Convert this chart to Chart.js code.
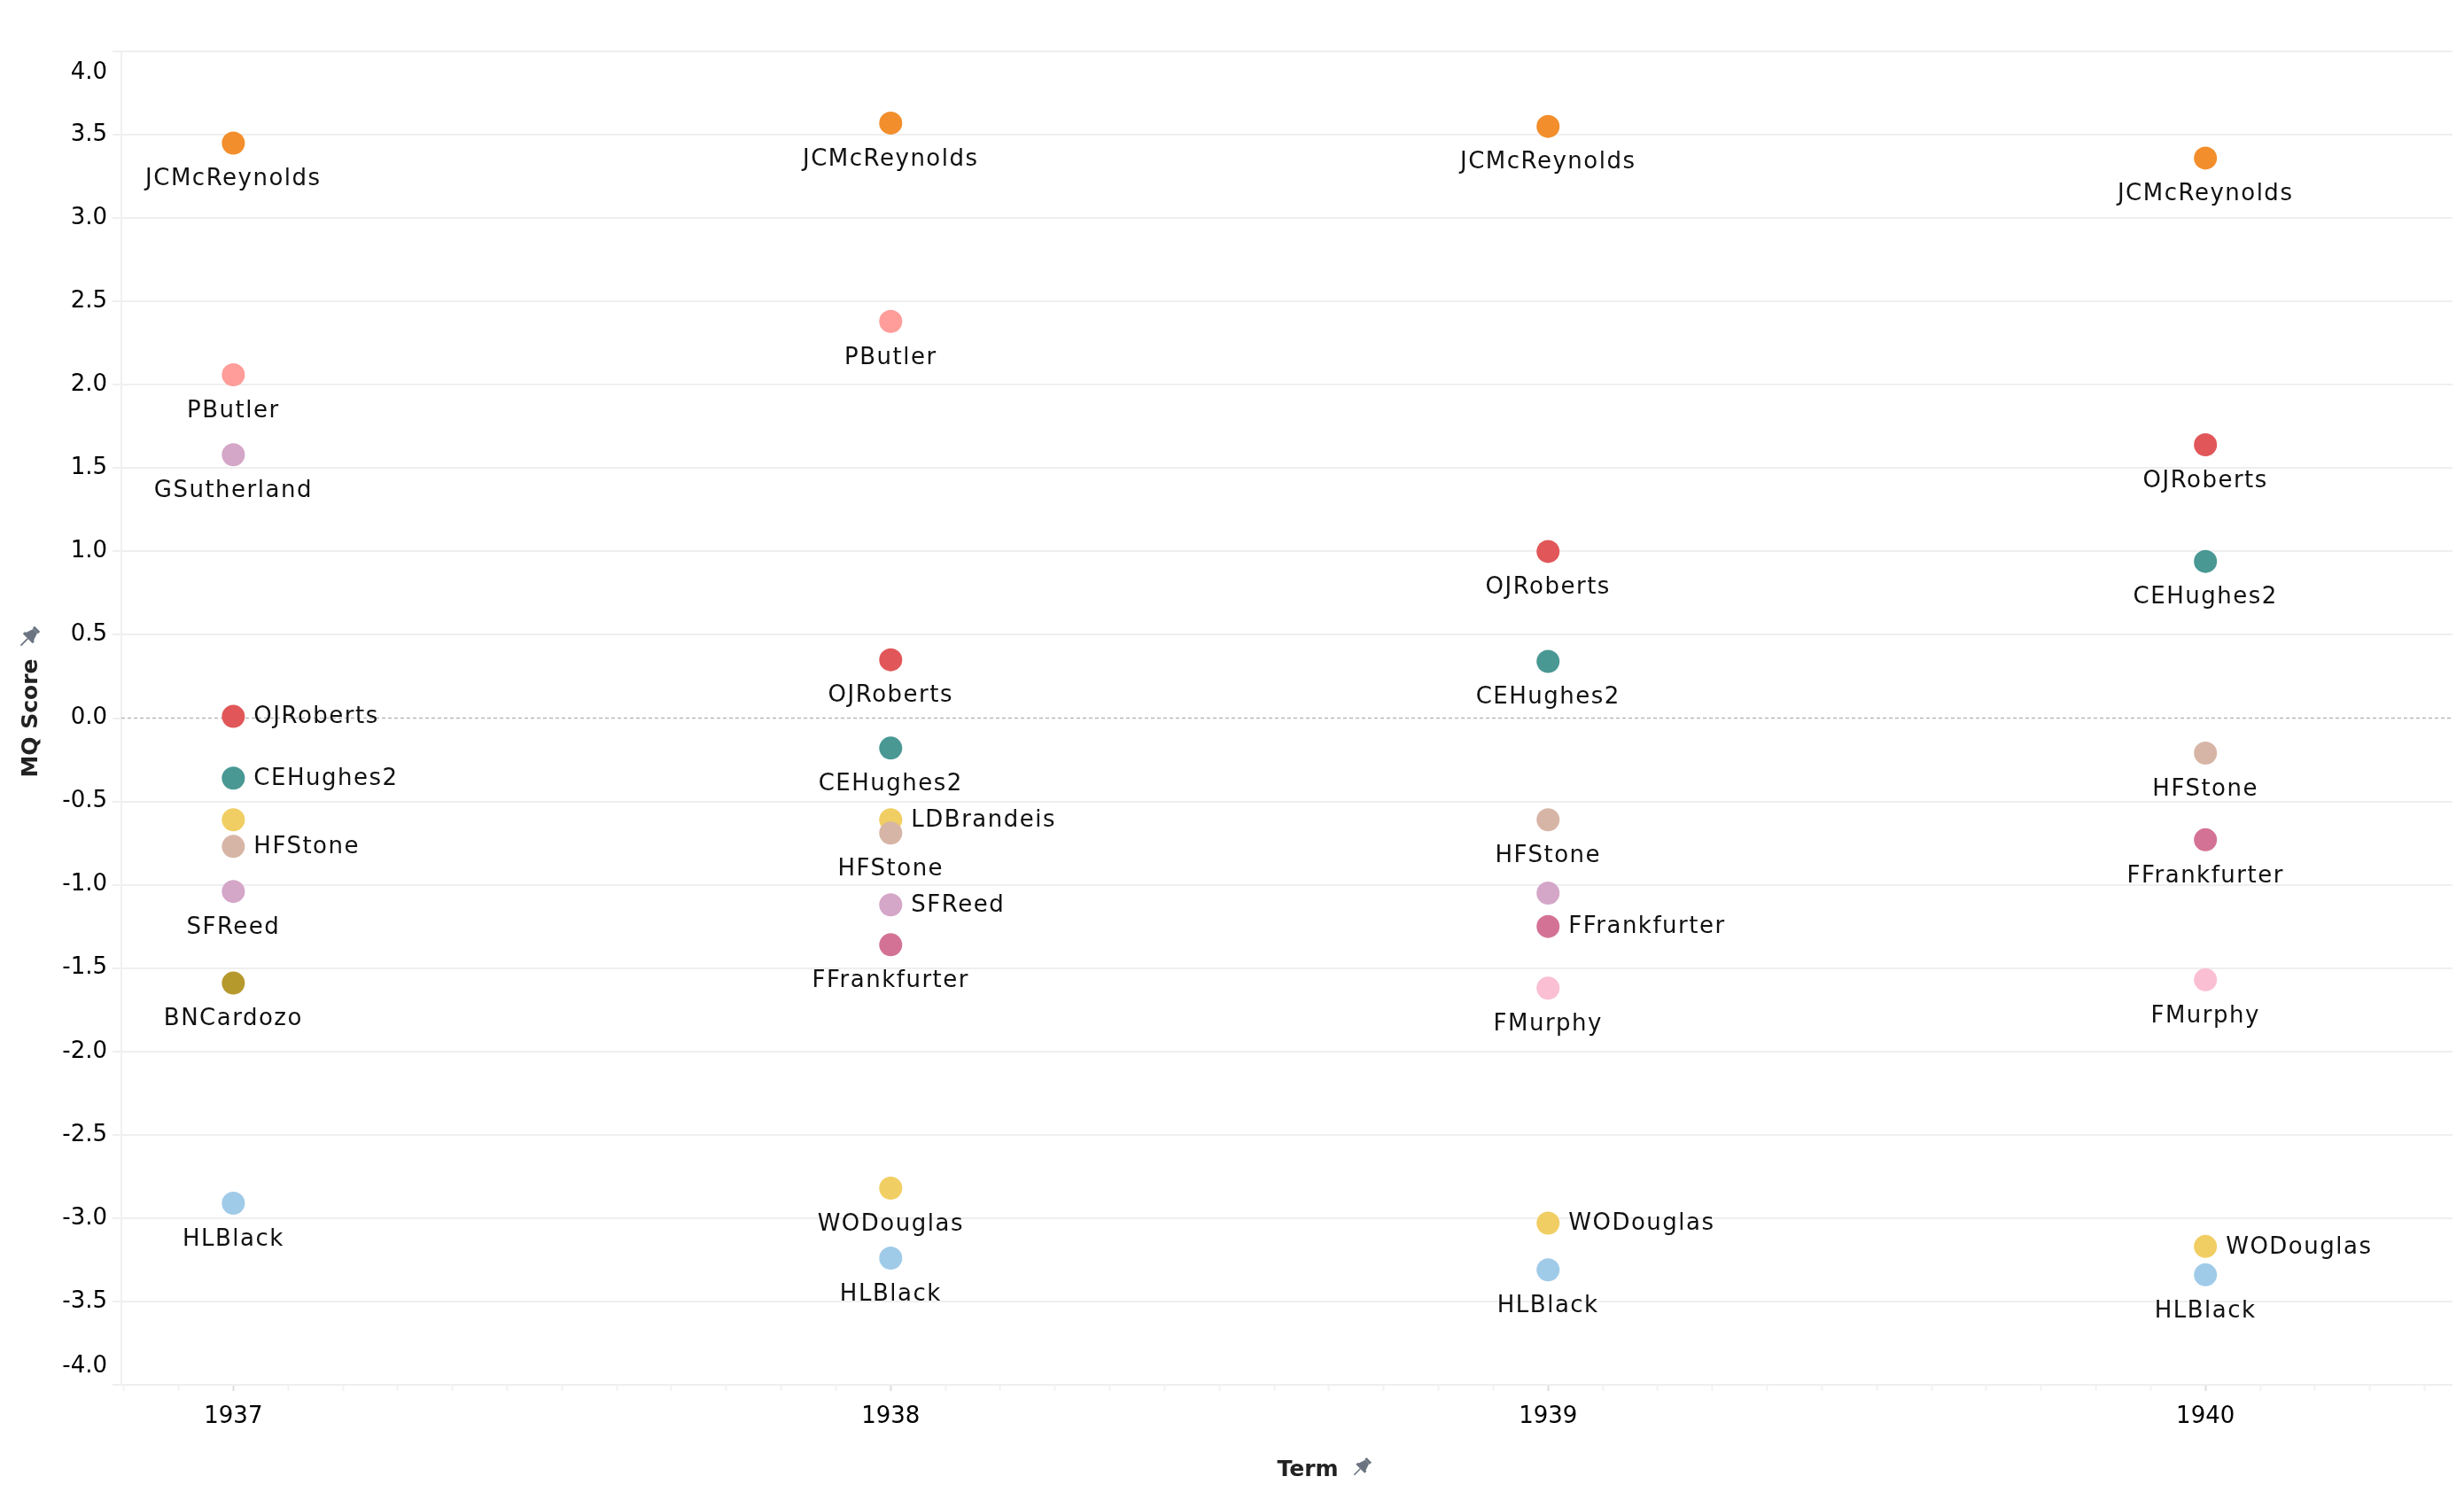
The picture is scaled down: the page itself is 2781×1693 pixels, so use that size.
<!DOCTYPE html>
<html>
<head>
<meta charset="utf-8">
<title>MQ Score by Term</title>
<style>
  html, body { margin: 0; padding: 0; background: #fff; overflow: hidden; }
  #wrap { width: 2781px; height: 1693px; position: relative; }
  #mq-chart { display: block; }
</style>
</head>
<body>
<div id="wrap"><canvas id="mq-chart"></canvas></div>
<script src="https://cdn.jsdelivr.net/npm/chart.js@4.4.1/dist/chart.umd.min.js"></script>
<script>
// Terms shown on the x axis
const terms = [1937, 1938, 1939, 1940];

// Martin-Quinn scores, one value per term (null = not sitting that term)
const JCMcReynolds = [3.45, 3.57, 3.55, 3.36];
const PButler      = [2.06, 2.38, null, null];
const GSutherland  = [1.58, null, null, null];
const OJRoberts    = [0.01, 0.35, 1.00, 1.64];
const CEHughes2    = [-0.36, -0.18, 0.34, 0.94];
const LDBrandeis   = [-0.61, -0.61, null, null];
const HFStone      = [-0.77, -0.69, -0.61, -0.21];
const SFReed       = [-1.04, -1.12, -1.05, null];
const BNCardozo    = [-1.59, null, null, null];
const FFrankfurter = [null, -1.36, -1.25, -0.73];
const FMurphy      = [null, null, -1.62, -1.57];
const WODouglas    = [null, -2.82, -3.03, -3.17];
const HLBlack      = [-2.91, -3.24, -3.31, -3.34];

const justices = ['JCMcReynolds', 'PButler', 'GSutherland', 'OJRoberts', 'CEHughes2',
  'LDBrandeis', 'HFStone', 'SFReed', 'BNCardozo', 'FFrankfurter', 'FMurphy',
  'WODouglas', 'HLBlack'];
const scoreRows = [JCMcReynolds, PButler, GSutherland, OJRoberts, CEHughes2,
  LDBrandeis, HFStone, SFReed, BNCardozo, FFrankfurter, FMurphy, WODouglas, HLBlack];

// colours (Tableau 20)
const colors = ['#F28E2B', '#FF9D9A', '#D4A6C8', '#E15759', '#499894', '#F1CE63',
  '#D7B5A6', '#D4A6C8', '#B6992D', '#D37295', '#FABFD2', '#F1CE63', '#A0CBE8'];

// label placement: default is under the mark
const labelRight = {
  1937: ['OJRoberts', 'CEHughes2', 'HFStone'],
  1938: ['LDBrandeis', 'SFReed'],
  1939: ['FFrankfurter', 'WODouglas'],
  1940: ['WODouglas']
};
const labelHidden = { 1937: ['LDBrandeis'], 1939: ['SFReed'] };

const datasets = justices.map((name, i) => ({
  label: name,
  data: terms.map((t, k) => ({ x: t, y: scoreRows[i][k] })).filter(d => d.y !== null),
  backgroundColor: colors[i],
  borderWidth: 0,
  pointRadius: 13,
  pointHoverRadius: 13,
  order: -i
}));

function drawPin(ctx, x, y, s) {
  ctx.save();
  ctx.translate(x, y);
  ctx.rotate(Math.PI / 4);
  ctx.scale(s, s);
  ctx.fillStyle = '#6b7480';
  ctx.strokeStyle = '#6b7480';
  ctx.fillRect(-4, -13, 8, 3);
  ctx.beginPath();
  ctx.moveTo(-3, -10); ctx.lineTo(3, -10); ctx.lineTo(6, -1); ctx.lineTo(-6, -1);
  ctx.closePath();
  ctx.fill();
  ctx.fillRect(-7, -2, 14, 3);
  ctx.lineWidth = 1.6;
  ctx.beginPath();
  ctx.moveTo(0, 1); ctx.lineTo(0, 11);
  ctx.stroke();
  ctx.restore();
}

const decorations = {
  id: 'decorations',
  beforeDatasetsDraw(chart) {
    const { ctx, chartArea, scales } = chart;
    const y0 = scales.y.getPixelForValue(0);
    ctx.save();
    ctx.strokeStyle = '#b8b8b8';
    ctx.lineWidth = 1.5;
    ctx.setLineDash([4, 3]);
    ctx.beginPath();
    ctx.moveTo(chartArea.left, y0);
    ctx.lineTo(chartArea.right, y0);
    ctx.stroke();
    ctx.restore();
  },
  afterDatasetsDraw(chart) {
    const { ctx } = chart;
    ctx.save();
    ctx.font = '26px "DejaVu Sans"';
    ctx.letterSpacing = '1.5px';
    ctx.fillStyle = '#111';
    ctx.textBaseline = 'middle';
    chart.data.datasets.forEach((ds, i) => {
      const meta = chart.getDatasetMeta(i);
      meta.data.forEach((pt, j) => {
        const term = ds.data[j].x;
        if ((labelHidden[term] || []).includes(ds.label)) return;
        if ((labelRight[term] || []).includes(ds.label)) {
          ctx.textAlign = 'left';
          ctx.fillText(ds.label, pt.x + 23, pt.y + 1);
        } else {
          ctx.textAlign = 'center';
          ctx.fillText(ds.label, pt.x, pt.y + 41);
        }
      });
    });
    ctx.restore();
  },
  afterDraw(chart) {
    const { ctx, chartArea, scales } = chart;
    const ys = scales.y;
    ctx.save();
    // y tick labels, end labels nudged inside the plot
    ctx.font = '26px "DejaVu Sans"';
    ctx.fillStyle = '#000';
    ctx.textAlign = 'right';
    ctx.textBaseline = 'middle';
    ys.ticks.forEach((t, i) => {
      let py = ys.getPixelForTick(i);
      if (t.value === ys.max) py += 24;
      if (t.value === ys.min) py -= 21;
      ctx.fillText(t.value.toFixed(1), 121, py);
    });
    // axis titles
    ctx.font = 'bold 25px "DejaVu Sans"';
    ctx.fillStyle = '#222';
    ctx.textAlign = 'center';
    ctx.save();
    ctx.translate(35, (chartArea.top + chartArea.bottom) / 2);
    ctx.rotate(-Math.PI / 2);
    ctx.fillText('MQ Score', 0, 0);
    ctx.restore();
    drawPin(ctx, 32, 720, 1.1);
    ctx.fillText('Term', 1476, 1659);
    drawPin(ctx, 1536, 1657, 1.0);
    ctx.restore();
  }
};

const ctx = document.getElementById('mq-chart').getContext('2d');
new Chart(ctx, {
  type: 'scatter',
  data: { datasets },
  options: {
    responsive: true,
    maintainAspectRatio: false,
    devicePixelRatio: 1,
    animation: false,
    // negative right padding lets the plot run to the page edge
    layout: { padding: { top: 58, right: -5, left: 0, bottom: 0 } },
    plugins: {
      legend: { display: false },
      tooltip: { enabled: false }
    },
    scales: {
      x: {
        type: 'linear',
        min: 1936.8297,
        max: 1940.3758,
        afterBuildTicks(scale) {
          const ticks = [];
          for (let k = Math.ceil(scale.min * 12); k <= scale.max * 12; k++) {
            ticks.push({ value: k / 12 });
          }
          scale.ticks = ticks;
        },
        afterFit(scale) { scale.height = 130; },
        border: { display: false },
        grid: {
          drawOnChartArea: false,
          drawTicks: true,
          tickLength: 7,
          tickWidth: 2,
          tickColor: (c) => Number.isInteger(c.tick && c.tick.value) ? '#dcdcdc' : '#f2f2f2'
        },
        ticks: {
          autoSkip: false,
          maxRotation: 0,
          padding: 14,
          color: '#000',
          font: { family: 'DejaVu Sans', size: 26 },
          callback: (v) => Number.isInteger(v) ? String(v) : ''
        }
      },
      y: {
        min: -4,
        max: 4,
        afterFit(scale) { scale.width = 137; },
        border: { display: true, color: '#f0f0f0', width: 2 },
        grid: {
          color: (c) => c.tick && c.tick.value === 0 ? 'rgba(0,0,0,0)' : '#efefef',
          lineWidth: 2,
          drawTicks: true,
          tickLength: 10,
          tickColor: '#efefef'
        },
        ticks: {
          stepSize: 0.5,
          display: false
        }
      }
    }
  },
  plugins: [decorations]
});
</script>
</body>
</html>
